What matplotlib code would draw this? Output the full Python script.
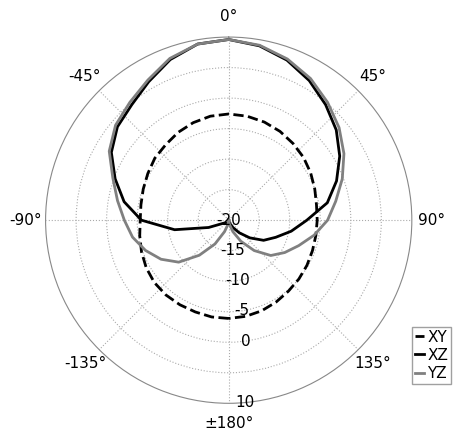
import numpy as np
import matplotlib.pyplot as plt

# angles in degrees, -180 .. 180 in 10 degree steps
ang = np.arange(-180, 181, 10)
xy = np.array([-3.9, -3.9, -4.0, -4.0, -4.0, -4.1, -4.4, -4.8, -5.2, -5.5, -5.4, -5.1, -4.7,
               -4.2, -3.9, -3.4, -3.0, -2.7, -2.6, -2.7, -2.9, -3.2, -3.6, -4.0, -4.5, -5.0,
               -5.4, -5.5, -5.5, -5.4, -5.2, -5.0, -4.8, -4.5, -4.2, -4.0, -3.9])
xz = np.array([-20.0, -19.8, -19.6, -19.5, -19.4, -19.3, -19.0, -16.5, -11.0, -5.7, -2.6, -0.2, 2.2,
               3.8, 4.7, 6.2, 8.0, 9.3, 9.6, 9.0, 7.9, 6.4, 4.7, 3.0, 1.0, -1.2,
               -3.6, -7.2, -9.6, -11.8, -13.4, -15.5, -17.3, -18.6, -19.4, -19.8, -20.0])
yz = np.array([-20.0, -19.3, -18.0, -15.5, -12.5, -9.3, -7.2, -5.5, -4.0, -2.9, -1.5, 0.2, 2.6,
               4.2, 5.2, 6.5, 8.2, 9.3, 9.6, 9.1, 8.1, 6.8, 5.2, 3.6, 1.8, -0.2,
               -2.2, -3.8, -5.8, -7.8, -9.4, -11.0, -13.5, -16.0, -18.0, -19.3, -20.0])

fig = plt.figure(figsize=(4.74, 4.36), dpi=100)
ax = fig.add_axes([0.095, 0.075, 0.775, 0.84], projection='polar')
ax.set_theta_zero_location('N')
ax.set_theta_direction(-1)
ax.set_ylim(-20, 10)

t = np.deg2rad(ang)
ax.plot(t, xy, 'k--', lw=2, label='XY')
ax.plot(t, xz, color='black', lw=2, label='XZ')
ax.plot(t, yz, color='#808080', lw=2, label='YZ')

ax.set_xticks(np.deg2rad(np.arange(0, 360, 45)))
ax.set_xticklabels(['0°', '45°', '90°', '135°', '±180°', '-135°', '-90°', '-45°'], fontsize=11)
ax.tick_params(axis='x', pad=4)
ax.set_rticks([-15, -10, -5, 0, 5])
ax.set_yticklabels([])
ax.grid(True, ls=':', color='#aaaaaa', lw=0.8)
ax.spines['polar'].set_color('#888888')
for r in [-20, -15, -10, -5, 0, 10]:
    ax.text(np.deg2rad(172 if r < 10 else 175), r, str(r), fontsize=11, ha='center', va='center')

ax.legend(loc='upper left', bbox_to_anchor=(0.98, 0.23), fontsize=11, handlelength=0.6,
          handletextpad=0.2, borderpad=0.2, fancybox=False, edgecolor='#888888', labelspacing=0.2)
fig.savefig('out.png')
